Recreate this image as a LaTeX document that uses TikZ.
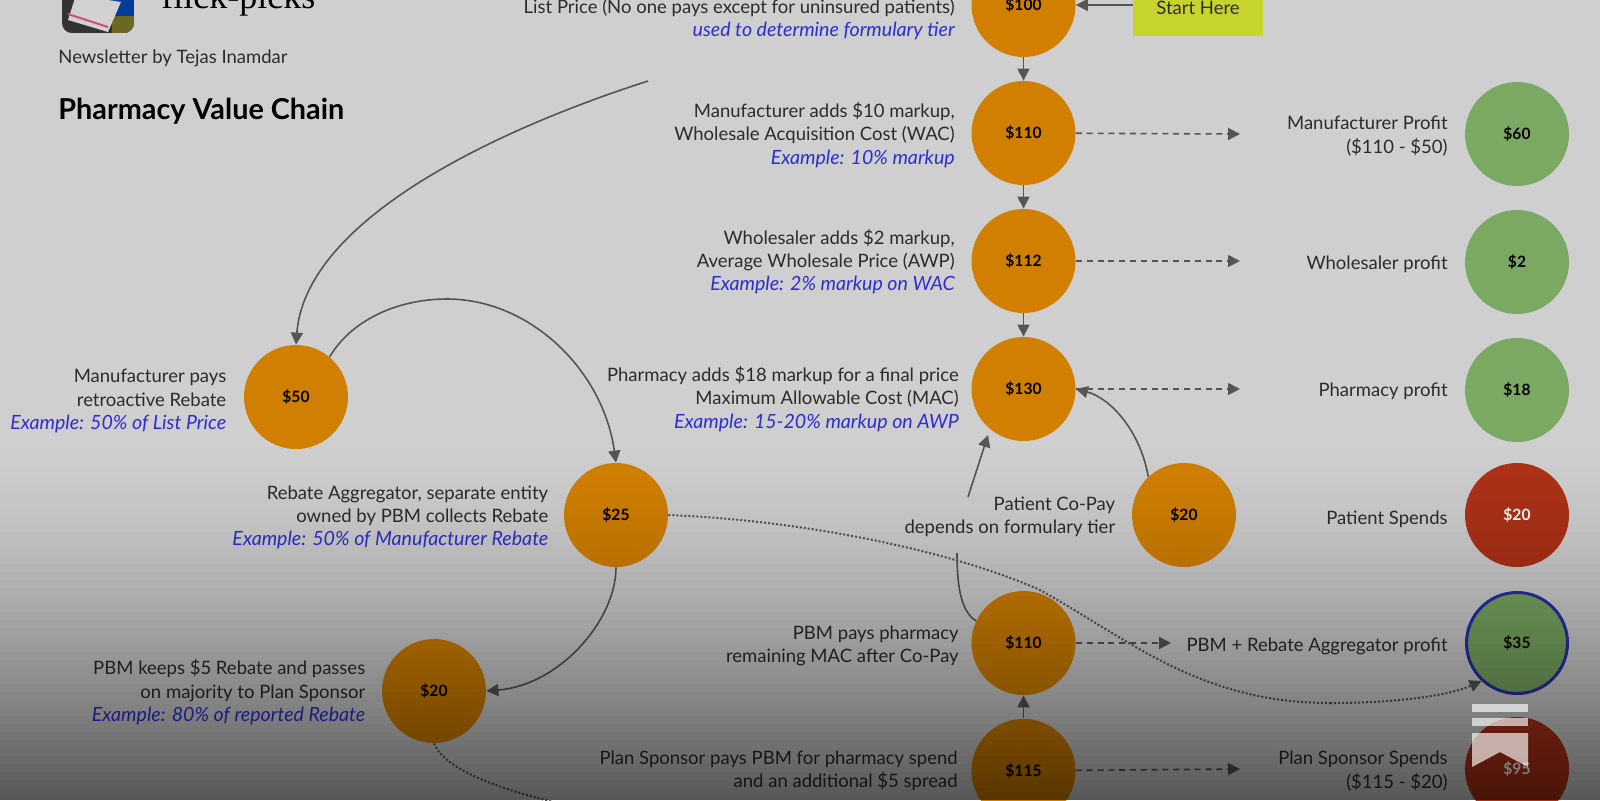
\documentclass[tikz,border=0pt]{standalone}
\usepackage{fontspec}
\setmainfont{Lato}
\newfontfamily\logofont{Liberation Serif}
\usetikzlibrary{positioning,arrows.meta}
\definecolor{chainbg}{HTML}{CFCFCF}
\definecolor{chainorange}{HTML}{D17F00}
\definecolor{chaingreen}{HTML}{7BA862}
\definecolor{chainred}{HTML}{AE3218}
\definecolor{chainblue}{HTML}{2E2ECF}
\definecolor{chainedge}{HTML}{2B2FA8}
\definecolor{chainyellow}{HTML}{C8D42E}
\definecolor{chainline}{HTML}{555555}
\definecolor{chaintext}{HTML}{2C2C2C}
\newcommand{\exm}[1]{\textcolor{chainblue}{\fontsize{9.8}{12}\selectfont\itshape #1}}

\begin{document}
\begin{tikzpicture}[
  x=0.5pt, y=-0.5pt,
  font=\fontsize{9.25}{11.6}\selectfont,
  circ/.style={circle, minimum size=52pt, inner sep=0pt, fill=chainorange, text=black,
               font=\fontsize{7.8}{9}\selectfont\bfseries},
  prof/.style={circ, fill=chaingreen},
  spend/.style={circ, fill=chainred, text=white},
  lab/.style={align=right, inner sep=0pt, text=chaintext},
  arr/.style={-{Triangle[length=6pt,width=6pt]}, thick, chainline},
  darr/.style={arr, dash pattern=on 3pt off 2.4pt},
  dotarr/.style={arr, line width=1pt, dash pattern=on 1pt off 1pt},
  line/.style={thick, chainline}
]
\useasboundingbox (0,0) rectangle (1600,800);
\clip (0,0) rectangle (1600,800);
\fill[chainbg] (0,0) rectangle (1600,800);
% ================= header: logo, newsletter, title =================
\begin{scope}
  \clip[rounded corners=5pt] (62,-30) rectangle (134,33);
  \fill[black!80] (62,-30) rectangle (134,33);
  \fill[blue!60!cyan!60!black] (112,-30) rectangle (134,16);
  \fill[olive!70!black] (112,16) rectangle (134,33);
  \fill[black!18] (76,-5) -- (121,2) -- (108,32) -- (68,20) -- cycle;
  \draw[purple!70!white, line width=1pt] (68,14) -- (108,27);
\end{scope}
\node[anchor=base west, inner sep=0pt, text=black, font=\fontsize{18}{20}\logofont] (logo) at (161,8) {flick-picks};
\node[anchor=west, inner sep=0pt, text=chaintext] (news) at (58,58) {Newsletter by Tejas Inamdar};
\node[anchor=west, inner sep=0pt, text=black, font=\fontsize{14.4}{16}\selectfont\bfseries] (title) at (58,111) {Pharmacy Value Chain};
% ================= main column =================
\node[circ] (c100) at (1023.5,5) {\$100};
\node[circ, below=11.6pt of c100] (c110) {\$110};
\node[circ, below=11.6pt of c110] (c112) {\$112};
\node[circ, below=11.6pt of c112] (c130) {\$130};
\node[circ] (c110b) at (1023.5,643) {\$110};
\node[circ, below=11.5pt of c110b] (c115) {\$115};
\node[circ] (ccopay) at (1184,515) {\$20};
\foreach \a/\b in {c100/c110, c110/c112, c112/c130, c115/c110b}{\draw[arr] (\a) -- (\b);}
% ================= rebate side =================
\node[circ] (c50) at (296,397) {\$50};
\node[circ] (c25) at (616,515) {\$25};
\node[circ] (c20) at (434,691) {\$20};
% ================= profit column =================
\node[prof]  (p60) at (1517,134) {\$60};
\node[prof, below=11.6pt of p60] (p2) {\$2};
\node[prof, below=11.6pt of p2]  (p18) {\$18};
\node[spend] (s20) at (1517,515) {\$20};
\node[prof, draw=chainedge, line width=1.5pt, minimum size=50.5pt] (p35) at (1517,643) {\$35};
\node[spend, fill=chainred] (s95) at (1517,769) {\$95};
% ----- start box -----
\node[fill=chainyellow, minimum width=65pt, minimum height=28pt, inner sep=0pt, text=chaintext] (start) at (1198,8) {};
\node[inner sep=0pt, text=chaintext] (starttext) at (1198,8) {Start Here};
\draw[arr] (start.west |- c100) -- (c100);
% ================= labels beside the circles =================
\node[lab, anchor=east] (l100) at (955,19.5)
  {List Price (No one pays except for uninsured patients)\\\exm{used to determine formulary tier}};
\node[lab, left=8pt of c110, yshift=-1pt] (l110)
  {Manufacturer adds \$10 markup,\\Wholesale Acquisition Cost (WAC)\\\exm{Example: 10\% markup}};
\node[lab, left=8pt of c112, yshift=-0.4pt] (l112)
  {Wholesaler adds \$2 markup,\\Average Wholesale Price (AWP)\\\exm{Example: 2\% markup on WAC}};
\node[lab, left=6pt of c130, yshift=-5pt] (l130)
  {Pharmacy adds \$18 markup for a final price\\Maximum Allowable Cost (MAC)\\\exm{Example: 15-20\% markup on AWP}};
\node[lab, left=8pt of ccopay, yshift=-1pt] (lcopay) {Patient Co-Pay\\depends on formulary tier};
\node[lab, left=6pt of c110b, yshift=-1.3pt] (l110b) {PBM pays pharmacy\\remaining MAC after Co-Pay};
\node[lab, left=6.5pt of c115] (l115) {Plan Sponsor pays PBM for pharmacy spend\\and an additional \$5 spread};
\node[lab, left=8.5pt of c50, yshift=-2pt] (l50)
  {Manufacturer pays\\retroactive Rebate\\\exm{Example: 50\% of List Price}};
\node[lab, left=7.5pt of c25, yshift=-1.3pt] (l25)
  {Rebate Aggregator, separate entity\\owned by PBM collects Rebate\\\exm{Example: 50\% of Manufacturer Rebate}};
\node[lab, left=8pt of c20, yshift=-0.6pt] (l20)
  {PBM keeps \$5 Rebate and passes\\on majority to Plan Sponsor\\\exm{Example: 80\% of reported Rebate}};
\node[lab, anchor=east] (r60) at (1448,136) {Manufacturer Profit\\(\$110 - \$50)};
\node[lab, anchor=east] (r2) at (1448,264) {Wholesaler profit};
\node[lab, anchor=east] (r18) at (1448,391) {Pharmacy profit};
\node[lab, anchor=east] (rs20) at (1448,519) {Patient Spends};
\node[lab, anchor=east] (r35) at (1448,646) {PBM + Rebate Aggregator profit};
\node[lab, anchor=east] (r95) at (1448,771) {Plan Sponsor Spends\\(\$115 - \$20)};
% ================= dashed arrows to the profit column =================
\coordinate (e110) at (1240,134);
\coordinate (e112) at (1240,261);
\coordinate (e130) at (1240,389);
\coordinate (e110b) at (1171,643);
\coordinate (e115) at (1240,769);
\foreach \a/\b in {c110/e110, c112/e112, c130/e130, c110b/e110b, c115/e115}{\draw[darr] (\a) -- (\b);}
% ================= curved flows =================
\coordinate (listA) at (648,81);
\draw[arr] (listA) .. controls (480,135) and (305,225) .. (c50.north);
\coordinate (topA) at (447,299);
\draw[line] (c50.50) .. controls (350,322) and (395,299) .. (topA);
\draw[arr] (topA) .. controls (530,299) and (603,370) .. (c25.north);
\draw[arr] (c25.south) .. controls (616,620) and (560,685) .. (c20.east);
\draw[arr] (ccopay.133) .. controls (1140,430) and (1110,398) .. (c130.east);
% broken by the co-pay label
\coordinate (payA) at (957,553);
\coordinate (payB) at (968,497);
\coordinate (payC) at (988,435);
\draw[line] (c110b.155) .. controls (962,612) and (957,590) .. (payA);
\draw[arr] (payB) -- (payC);
% ----- dotted flows -----
\coordinate (dotA) at (1040,590);
\coordinate (dotB) at (1330,703);
\coordinate (dotC) at (570,806);
\draw[dotarr, -] (c25.east) .. controls (800,520) and (950,550) .. (dotA) .. controls (1130,640) and (1200,703) .. (dotB);
\draw[dotarr] (dotB) .. controls (1400,703) and (1450,695) .. (p35.-133);
\draw[dotarr, -] (c20.south) .. controls (445,770) and (500,790) .. (dotC);
% ================= darkening towards the bottom, bookmark on top =================
\foreach \i in {0,...,89}{
  \pgfmathsetmacro{\ya}{440+4*\i}
  \pgfmathsetmacro{\alp}{0.58*pow((\i+0.5)/90,1.5)}
  \fill[black, opacity=\alp] (0,\ya) rectangle (1600,\ya+4);
}
\fill[white, opacity=0.65] (1472,704) rectangle (1528,712);
\fill[white, opacity=0.65] (1472,718) rectangle (1528,726);
\fill[white, opacity=0.65] (1472,733) -- (1528,733) -- (1528,767) -- (1500,752) -- (1472,767) -- cycle;
\end{tikzpicture}
\end{document}
